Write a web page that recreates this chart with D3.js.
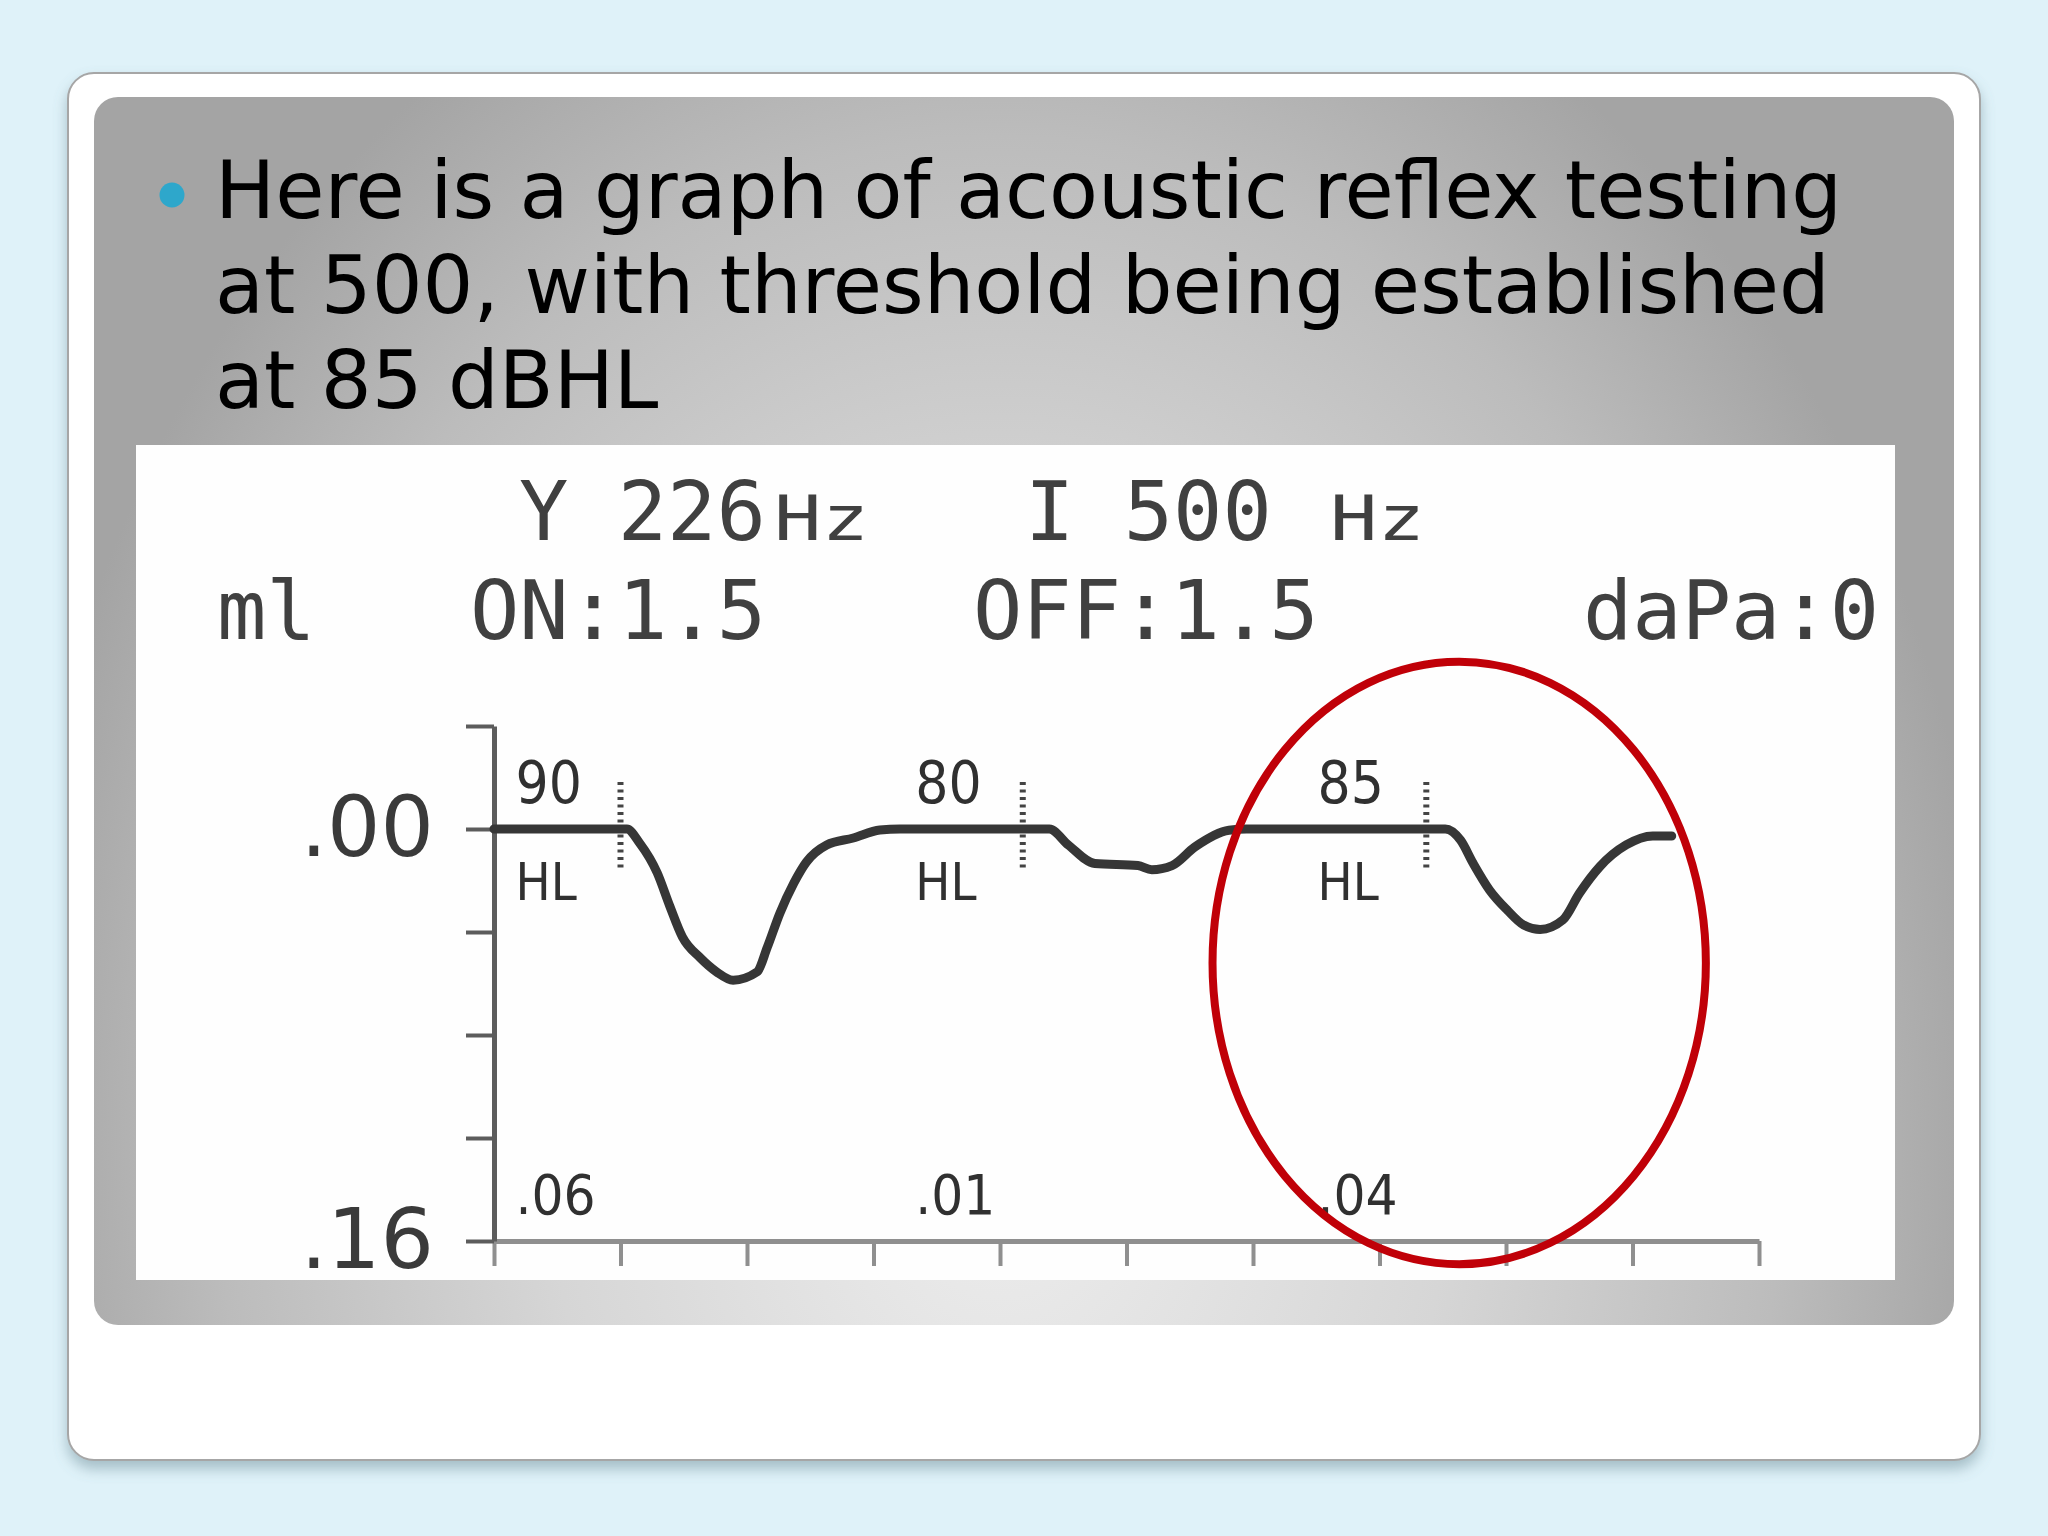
<!DOCTYPE html>
<html lang="en">
<head>
  <meta charset="UTF-8">
  <script src="https://d3js.org/d3.v7.min.js"></script>
  <title>Acoustic reflex at 500 Hz</title>
  <style>
    body { margin: 0; background: #dff2f9; }
    .title { font-family: "DejaVu Sans", Verdana, sans-serif; font-size: 80px; fill: #000; }
    .hdr { font-family: "DejaVu Sans Mono", monospace; font-size: 82px; fill: #404040; }
    .lvl { font-family: "DejaVu Sans Condensed", "DejaVu Sans", sans-serif; font-stretch: condensed; fill: #303030; }
    .yaxis text { font-family: "DejaVu Sans", sans-serif; font-size: 84px; fill: #3a3a3a; }
    .yaxis path, .yaxis line { stroke: #5c5c5c; }
    .xaxis path, .xaxis line { stroke: #8f8f8f; }
  </style>
</head>
<body>
<div id="chart"></div>
<script>
// slide bullet text
const titleLines = [
  "Here is a graph of acoustic reflex testing",
  "at 500, with threshold being established",
  "at 85 dBHL"
];

// printout header
const headerTop = [["Y 226", "Hz"], ["I 500 ", "Hz"]];
const headerBottom = ["ml", "ON:1.5", "OFF:1.5", "daPa:0"];

// axes
const xTicks = [0, 1, 2, 3, 4, 5, 6, 7, 8, 9, 10];
const yTickValues = [-0.04, 0, 0.04, 0.08, 0.12, 0.16];
const yTickLabels = ["", ".00", "", "", "", ".16"];

// stimulus runs: level (dB HL), reflex amplitude (ml), start and offset time
const stimLevels = ["90", "80", "85"];
const stimAmplitudes = [".06", ".01", ".04"];
const stimStart = [0.17, 3.33, 6.51];
const stimOff = [1.0, 4.18, 7.37];

// compliance trace (time, ml change)
const traceT = [0, 1.05, 1.15, 1.29, 1.39, 1.49, 1.63, 1.76, 1.89, 2.08, 2.16, 2.26, 2.37, 2.47, 2.63, 2.84, 3.05, 3.21,
  4.39, 4.54, 4.75, 5.09, 5.20, 5.36, 5.54, 5.81, 5.95,
  7.52, 7.64, 7.74, 7.87, 8.01, 8.14, 8.27, 8.45, 8.58, 8.74, 8.95, 9.16, 9.31];
const traceV = [0, 0, 0.0054, 0.017, 0.030, 0.042, 0.050, 0.0555, 0.0587, 0.0555, 0.046, 0.0327, 0.021, 0.0128, 0.0062, 0.0035, 0.0004, 0,
  0, 0.0062, 0.0134, 0.0142, 0.0158, 0.0142, 0.007, 0.0005, 0,
  0, 0.0043, 0.0133, 0.0237, 0.0315, 0.0373, 0.039, 0.0353, 0.025, 0.0147, 0.0062, 0.0027, 0.0027];

// red circle annotation around the 85 dB run (centre and radii in data units)
const highlight = { t: 7.63, v: 0.052, rt: 1.95, rv: 0.117 };

const W = 2048, H = 1536;
const svg = d3.select("#chart").append("svg")
  .attr("width", W).attr("height", H);

const defs = svg.append("defs");
const shadow = defs.append("filter").attr("id", "shadow")
  .attr("x", "-5%").attr("y", "-5%").attr("width", "110%").attr("height", "115%");
shadow.append("feDropShadow")
  .attr("dx", 0).attr("dy", 8).attr("stdDeviation", 7)
  .attr("flood-color", "#5f7f8a").attr("flood-opacity", 0.45);

const grad = defs.append("radialGradient").attr("id", "panelGrad")
  .attr("gradientUnits", "userSpaceOnUse")
  .attr("cx", 1000).attr("cy", 1150).attr("r", 1300)
  .attr("gradientTransform", "translate(1000 1150) scale(0.77 1) translate(-1000 -1150)");
grad.append("stop").attr("offset", "0%").attr("stop-color", "#eeeeee");
grad.append("stop").attr("offset", "45%").attr("stop-color", "#d6d6d6");
grad.append("stop").attr("offset", "78%").attr("stop-color", "#bcbcbc");
grad.append("stop").attr("offset", "100%").attr("stop-color", "#a4a4a4");

svg.append("rect").attr("width", W).attr("height", H).attr("fill", "#dff2f9");

// slide frame
svg.append("rect")
  .attr("x", 68).attr("y", 73).attr("width", 1912).attr("height", 1387).attr("rx", 26)
  .attr("fill", "#fff").attr("stroke", "#a6a6a6").attr("stroke-width", 2)
  .attr("filter", "url(#shadow)");

svg.append("rect")
  .attr("x", 94).attr("y", 97).attr("width", 1860).attr("height", 1228).attr("rx", 24)
  .attr("fill", "url(#panelGrad)");

// bullet + text
svg.append("circle").attr("cx", 172).attr("cy", 195).attr("r", 12.5).attr("fill", "#2ea7cb");
svg.append("g").selectAll("text")
  .data(titleLines)
  .join("text")
  .attr("class", "title")
  .attr("x", 215)
  .attr("y", (d, i) => 218 + i * 95)
  .text(d => d);

// white printout area
svg.append("rect")
  .attr("x", 136).attr("y", 445).attr("width", 1759).attr("height", 835)
  .attr("fill", "#fefefe");

// header
const topX = [519, 1025];
const hzX = [774, 1330];
headerTop.forEach((h, i) => {
  const t = svg.append("text").attr("class", "hdr").attr("x", topX[i]).attr("y", 540);
  t.append("tspan").text(h[0]);
  t.append("tspan").attr("x", hzX[i]).attr("font-size", 62)
    .attr("textLength", 95).attr("lengthAdjust", "spacingAndGlyphs").text(h[1]);
});
const botX = [217, 470, 973, 1583];
svg.append("g").selectAll("text")
  .data(headerBottom)
  .join("text")
  .attr("class", "hdr")
  .attr("x", (d, i) => botX[i])
  .attr("y", 639)
  .text(d => d);

// scales
const x = d3.scaleLinear().domain([0, 10]).range([494, 1759]);
const y = d3.scaleLinear().domain([-0.04, 0.16]).range([726, 1241]);

const yAxis = d3.axisLeft(y)
  .tickValues(yTickValues)
  .tickSize(28).tickSizeOuter(0).tickPadding(32)
  .tickFormat((d, i) => yTickLabels[i]);
const xAxis = d3.axisBottom(x)
  .tickValues(xTicks)
  .tickSize(25).tickSizeOuter(0)
  .tickFormat("");

const gx = svg.append("g").attr("class", "xaxis")
  .attr("transform", `translate(0,${y(0.16)})`)
  .call(xAxis);
gx.select(".domain").attr("stroke-width", 5);
gx.selectAll(".tick line").attr("stroke-width", 4);

const gy = svg.append("g").attr("class", "yaxis")
  .attr("transform", `translate(${x(0)},0)`)
  .call(yAxis);
gy.select(".domain").attr("stroke-width", 5);
gy.selectAll(".tick line").attr("stroke", "#8a8a8a").attr("stroke-width", 4);

// stimulus offset markers (dotted)
svg.append("g").selectAll("line")
  .data(stimOff)
  .join("line")
  .attr("x1", d => x(d)).attr("x2", d => x(d))
  .attr("y1", y(0) - 47).attr("y2", y(0) + 43)
  .attr("stroke", "#444").attr("stroke-width", 6)
  .attr("stroke-dasharray", "3,4.5");

// trace
const trace = traceT.map((t, i) => ({ t, v: traceV[i] }));
const line = d3.line()
  .x(d => x(d.t))
  .y(d => y(d.v))
  .curve(d3.curveMonotoneX);
svg.append("path")
  .datum(trace)
  .attr("d", line)
  .attr("fill", "none")
  .attr("stroke", "#363636")
  .attr("stroke-width", 9)
  .attr("stroke-linejoin", "round")
  .attr("stroke-linecap", "round");

// level labels
const lv = svg.append("g");
lv.selectAll(".lv")
  .data(stimLevels)
  .join("text")
  .attr("class", "lvl")
  .attr("x", (d, i) => x(stimStart[i]))
  .attr("y", y(0) - 26)
  .attr("font-size", 58)
  .text(d => d);
lv.selectAll(".hl")
  .data(stimLevels)
  .join("text")
  .attr("class", "lvl")
  .attr("x", (d, i) => x(stimStart[i]))
  .attr("y", y(0) + 71)
  .attr("font-size", 52)
  .text("HL");
lv.selectAll(".amp")
  .data(stimAmplitudes)
  .join("text")
  .attr("class", "lvl")
  .attr("x", (d, i) => x(stimStart[i]))
  .attr("y", y(0.16) - 27)
  .attr("font-size", 56)
  .text(d => d);

// highlight ellipse
svg.append("ellipse")
  .attr("cx", x(highlight.t))
  .attr("cy", y(highlight.v))
  .attr("rx", x(highlight.t + highlight.rt) - x(highlight.t))
  .attr("ry", y(highlight.v + highlight.rv) - y(highlight.v))
  .attr("fill", "none")
  .attr("stroke", "#c00008")
  .attr("stroke-width", 8);
</script>
</body>
</html>
